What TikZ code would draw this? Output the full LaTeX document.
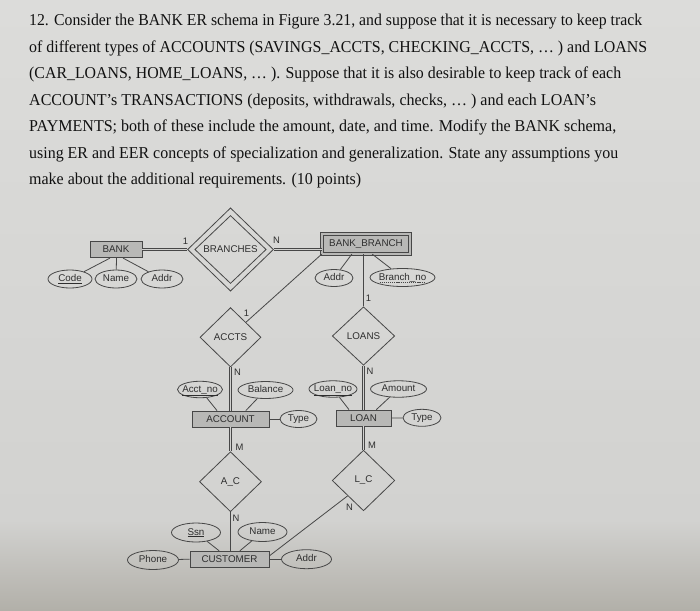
\documentclass[tikz,border=0pt]{standalone}
\usepackage{fontspec}
\usepackage{graphicx}
\setmainfont{Liberation Serif}
\newfontfamily\diagfont{Liberation Sans}
\usetikzlibrary{shapes.geometric,calc}
\definecolor{bgtop}{HTML}{DCDCDA}
\definecolor{bgmid}{HTML}{D2D2D0}
\definecolor{bgbot}{HTML}{B2B0A9}
\definecolor{entc}{HTML}{B8B8B6}
\definecolor{linec}{HTML}{474747}
\definecolor{dtext}{HTML}{2E2E2E}
\definecolor{qtext}{HTML}{111111}
\newcommand\qtxt[2]{\resizebox{#1}{\height}{\fontsize{16.6}{20}\selectfont #2}}
\begin{document}
\begin{tikzpicture}[x=1pt,y=-1pt,
  qline/.style={anchor=base west, inner sep=0pt, text=qtext},
  dfont/.style={font=\diagfont\fontsize{9.8}{10}\selectfont, text=dtext},
  ent/.style={dfont, draw=linec, fill=entc, line width=0.8pt, inner sep=0pt},
  attr/.style={dfont, draw=linec, ellipse, line width=0.8pt, inner xsep=-8pt, inner ysep=0pt, text height=7.2pt, text depth=2.2pt},
  rel/.style={dfont, draw=linec, diamond, line width=0.8pt, inner sep=0pt},
  card/.style={font=\diagfont\fontsize{9.4}{10}\selectfont, text=dtext, inner sep=0pt},
  conn/.style={draw=linec, line width=0.8pt},
  dbl/.style={draw=linec, line width=0.9pt, double=bgmid, double distance=1.3pt},
]
\useasboundingbox (0,0) rectangle (700,610);
\shade[top color=bgtop, bottom color=bgmid] (0,0) rectangle (700,520);
\shade[top color=bgmid, bottom color=bgbot] (0,520) rectangle (700,610);

% question text
\node[qline] (q1) at (29,25.5) {\qtxt{613pt}{12. Consider the BANK ER schema in Figure 3.21, and suppose that it is necessary to keep track}};
\node[qline] (q2) at (29,52) {\qtxt{618pt}{of different types of ACCOUNTS (SAVINGS\_ACCTS, CHECKING\_ACCTS, … ) and LOANS}};
\node[qline] (q3) at (29,78.5) {\qtxt{592pt}{(CAR\_LOANS, HOME\_LOANS, … ). Suppose that it is also desirable to keep track of each}};
\node[qline] (q4) at (29,105) {\qtxt{567pt}{ACCOUNT’s TRANSACTIONS (deposits, withdrawals, checks, … ) and each LOAN’s}};
\node[qline] (q5) at (29,131.5) {\qtxt{587pt}{PAYMENTS; both of these include the amount, date, and time. Modify the BANK schema,}};
\node[qline] (q6) at (29,158) {\qtxt{589pt}{using ER and EER concepts of specialization and generalization. State any assumptions you}};
\node[qline] (q7) at (29,184.5) {\qtxt{332pt}{make about the additional requirements. (10 points)}};

% entities
\node[ent, minimum width=52pt, minimum height=16.5pt] (bank) at (116,249.5) {BANK};
\node[ent, minimum width=87.7pt, minimum height=20pt, double=entc, double distance=2pt] (bbranch) at (366,243.7) {BANK\_BRANCH};
\node[ent, minimum width=77pt, minimum height=16pt] (account) at (230.5,419) {ACCOUNT};
\node[ent, minimum width=55pt, minimum height=16pt] (loan) at (363.5,418) {LOAN};
\node[ent, minimum width=79pt, minimum height=16pt] (customer) at (229.5,559.2) {CUSTOMER};

% relationships
\node[rel, minimum width=86pt, minimum height=83.3pt] (branches) at (230.5,249.5) {};
\node[rel, minimum width=71.4pt, minimum height=68pt] (branchesin) at (230.5,249.5) {BRANCHES};
\node[rel, minimum width=61pt, minimum height=59.4pt] (accts) at (230.5,337.3) {ACCTS};
\node[rel, minimum width=62.4pt, minimum height=58.4pt] (loans) at (363.5,336) {LOANS};
\node[rel, minimum width=62pt, minimum height=60pt] (ac) at (230.5,481.7) {A\_C};
\node[rel, minimum width=62.6pt, minimum height=60.6pt] (lc) at (363.5,480.5) {L\_C};

% attributes
\node[attr, minimum width=44pt, minimum height=18pt] (code) at (70,279) {\underline{Code}};
\node[attr, minimum width=42pt, minimum height=18pt] (bname) at (116,279) {Name};
\node[attr, minimum width=42pt, minimum height=18pt] (baddr) at (162,279) {Addr};
\node[attr, minimum width=38pt, minimum height=17pt] (bbaddr) at (334,278) {Addr};
\node[attr, minimum width=65pt, minimum height=18pt] (bbno) at (402.5,277.5) {Branch\_no};
\draw[linec, line width=0.7pt, dash pattern=on 1.2pt off 0.9pt] ($(bbno.center)+(-23,4.8)$) -- ($(bbno.center)+(23,4.8)$);
\node[attr, minimum width=45pt, minimum height=16.5pt] (acctno) at (200,389.5) {\underline{Acct\_no}};
\node[attr, minimum width=55pt, minimum height=17pt] (balance) at (265.5,390) {Balance};
\node[attr, minimum width=37pt, minimum height=17pt] (atype) at (298.5,419) {Type};
\node[attr, minimum width=48pt, minimum height=16.5pt] (loanno) at (333,389) {\underline{Loan\_no}};
\node[attr, minimum width=56pt, minimum height=16.5pt] (amount) at (398.5,389) {Amount};
\node[attr, minimum width=38pt, minimum height=17pt] (ltype) at (422,417.8) {Type};
\node[attr, minimum width=49pt, minimum height=19pt] (ssn) at (196,532.5) {\underline{Ssn}};
\node[attr, minimum width=49pt, minimum height=19pt] (cname) at (262.5,532) {Name};
\node[attr, minimum width=51pt, minimum height=19pt] (phone) at (153,560) {Phone};
\node[attr, minimum width=50pt, minimum height=19pt] (caddr) at (306.5,559.2) {Addr};

% cardinality labels
\node[card] (c1) at (185.5,241) {1};
\node[card] (c2) at (276.5,240.5) {N};
\node[card] (c3) at (246.5,313) {1};
\node[card] (c4) at (368.5,298.5) {1};
\node[card] (c5) at (237.5,372) {N};
\node[card] (c6) at (370,371) {N};
\node[card] (c7) at (239.5,447) {M};
\node[card] (c8) at (372,445) {M};
\node[card] (c9) at (236,518) {N};
\node[card] (c10) at (349.5,507.5) {N};

% attachment points
\coordinate (bk1) at ($(bank.south west)!0.385!(bank.south east)$);
\coordinate (bk2) at ($(bank.south west)!0.51!(bank.south east)$);
\coordinate (bk3) at ($(bank.south west)!0.635!(bank.south east)$);
\coordinate (bb1) at ($(bbranch.south west)!0.34!(bbranch.south east)$);
\coordinate (bb2) at ($(bbranch.south west)!0.57!(bbranch.south east)$);
\coordinate (ac1) at ($(account.north west)!0.327!(account.north east)$);
\coordinate (ac2) at ($(account.north west)!0.697!(account.north east)$);
\coordinate (ln1) at ($(loan.north west)!0.24!(loan.north east)$);
\coordinate (ln2) at ($(loan.north west)!0.73!(loan.north east)$);
\coordinate (cu1) at ($(customer.north west)!0.37!(customer.north east)$);
\coordinate (cu2) at ($(customer.north west)!0.63!(customer.north east)$);
\coordinate (cu3) at ($(customer.north east)!0.3!(customer.south east)$);

% relationship connectors
\draw[dbl] (bank.east) -- (branches.west);
\draw[dbl] (branches.east) -- (branches.east -| bbranch.west);
\draw[conn] (bbranch.south west) -- (accts.north east);
\draw[conn] (loans.north |- bbranch.south) -- (loans.north);
\draw[dbl] (accts.south) -- (account.north);
\draw[dbl] (loans.south) -- (loan.north);
\draw[dbl] (account.south) -- (ac.north);
\draw[dbl] (loan.south) -- (lc.north);
\draw[conn] (ac.south) -- (ac.south |- customer.north);
\draw[conn] (lc.south west) -- (cu3);

% attribute connectors
\draw[conn] (code) -- (bk1);
\draw[conn] (bname) -- (bk2);
\draw[conn] (baddr) -- (bk3);
\draw[conn] (bbaddr) -- (bb1);
\draw[conn] (bbno) -- (bb2);
\draw[conn] (acctno) -- (ac1);
\draw[conn] (balance) -- (ac2);
\draw[conn] (account.east) -- (atype);
\draw[conn] (loanno) -- (ln1);
\draw[conn] (amount) -- (ln2);
\draw[conn] (loan.east) -- (ltype);
\draw[conn] (ssn) -- (cu1);
\draw[conn] (cname) -- (cu2);
\draw[conn] (phone) -- (customer.west);
\draw[conn] (customer.east) -- (caddr);
\end{tikzpicture}
\end{document}
